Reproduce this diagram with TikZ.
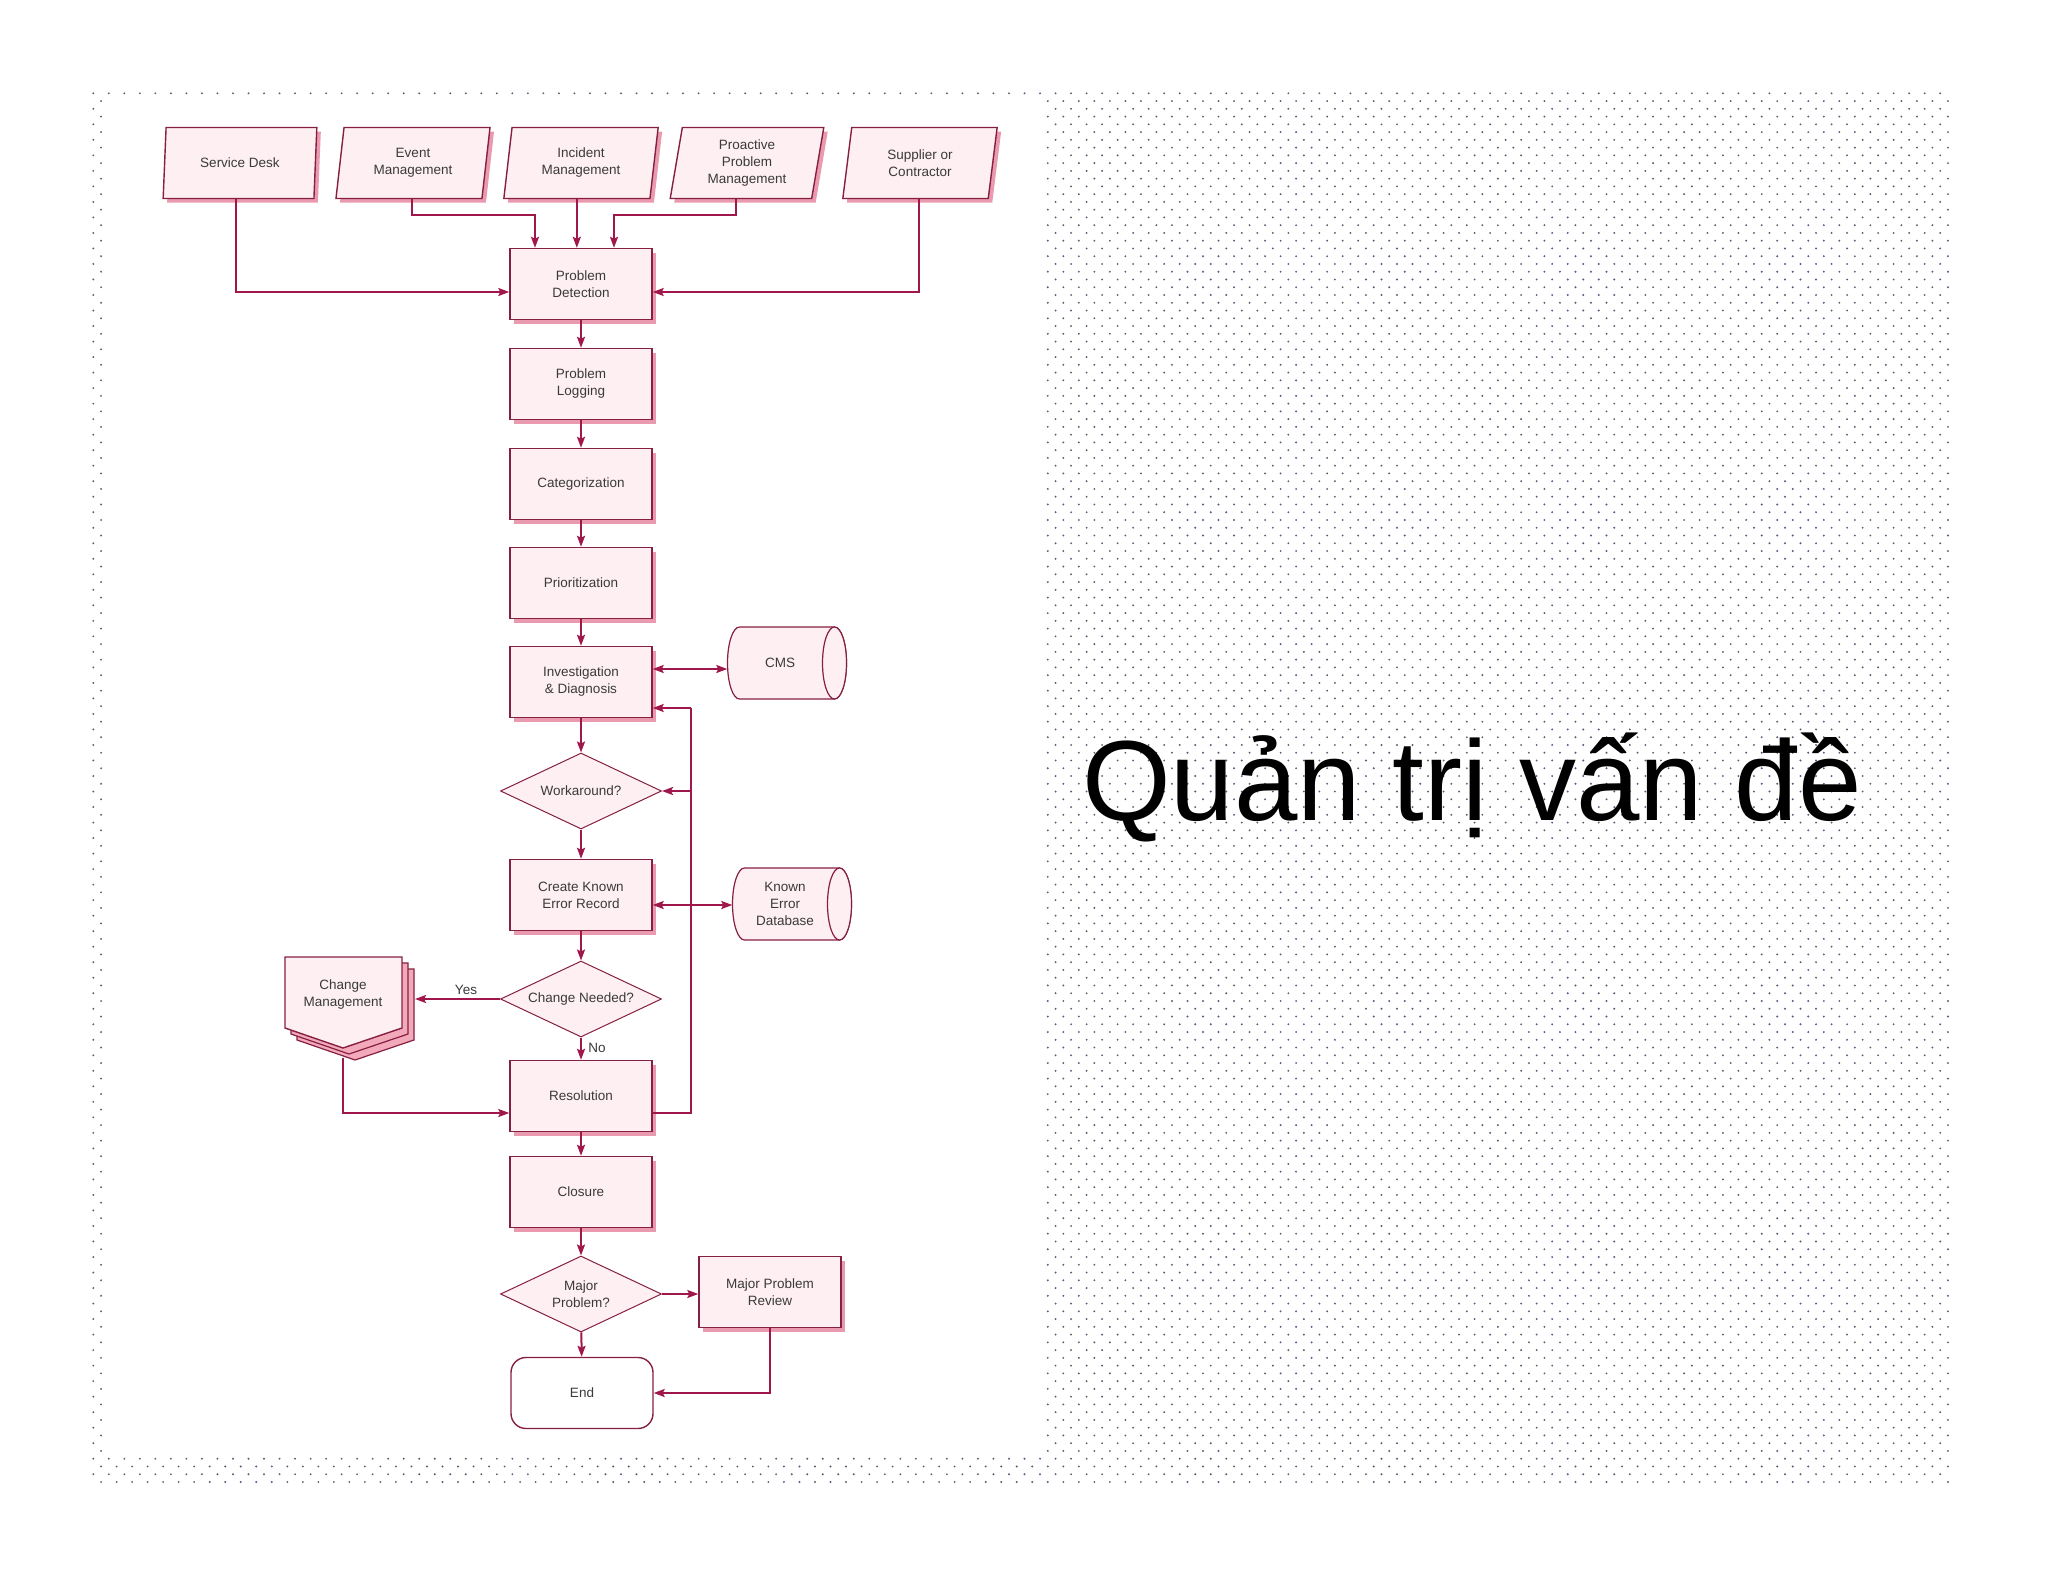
\documentclass[tikz,border=0pt]{standalone}
\usepackage{fontspec}
\setmainfont{Liberation Sans}
\usetikzlibrary{arrows.meta,shapes.geometric,shadows,calc}
\definecolor{dotc}{HTML}{565C7C}
\definecolor{bfill}{HTML}{FDEFF2}
\definecolor{bdraw}{HTML}{862042}
\definecolor{shad}{HTML}{EA9AAE}
\definecolor{conc}{HTML}{A0174B}
\definecolor{txt}{HTML}{3A3A3A}
\definecolor{backc}{HTML}{F2A9B9}
\tikzset{
  lbl/.style={font=\fontsize{13.5pt}{17pt}\selectfont, text=txt, align=center},
  sh/.style={drop shadow={shadow xshift=4pt, shadow yshift=-4pt, fill=shad, opacity=1}},
  procbox/.style={lbl, rectangle, draw=bdraw, line width=1.4pt, fill=bfill, minimum width=142pt, minimum height=71pt, inner sep=0pt, sh},
  inbox/.style={lbl, trapezium, trapezium left angle=81, trapezium right angle=99, trapezium stretches=true, draw=bdraw, line width=1.4pt, fill=bfill, minimum width=155pt, minimum height=71pt, inner sep=0pt, sh},
  decis/.style={lbl, diamond, aspect=2.1, draw=bdraw, line width=1pt, fill=bfill, minimum width=161pt, minimum height=76pt, inner sep=0pt},
  storetext/.style={lbl, rectangle, minimum width=119pt, minimum height=72pt, inner sep=0pt},
  storeline/.style={draw=bdraw, fill=bfill, line width=1.2pt},
  termbox/.style={lbl, rectangle, rounded corners=15pt, draw=bdraw, line width=1.4pt, fill=white, minimum width=142pt, minimum height=71pt, inner sep=0pt},
  tipa/.tip={Stealth[length=11pt, width=8pt, inset=2pt]},
  conn/.style={draw=conc, line width=2pt, -tipa},
  link/.style={draw=conc, line width=2pt},
  both/.style={draw=conc, line width=2pt, tipa-tipa},
}
\newcommand\mystorebody[1]{%
  \path[storeline] ($(#1)+(-47.5,-36)$) -- ($(#1)+(47.5,-36)$)
    arc[start angle=90, end angle=-90, x radius=12pt, y radius=36pt]
    -- ($(#1)+(-47.5,36)$)
    arc[start angle=270, end angle=90, x radius=12pt, y radius=36pt] -- cycle;
  \path[storeline] ($(#1)+(47.5,0)$) ellipse[x radius=12pt, y radius=36pt];
}
\begin{document}
\begin{tikzpicture}[x=1pt, y=-1pt]
\useasboundingbox (0,0) rectangle (2048,1582);
\fill[white] (0,0) rectangle (2048,1582);
% dotted background
\foreach \j in {0,...,179}{
  \pgfmathsetmacro\yy{93.3+7.758*\j}
  \pgfmathsetmacro\xx{93.3+7.76*mod(\j,2)}
  \draw[dotc, line width=2.1pt, line cap=round, dash pattern=on 0pt off 15.52pt] (\xx,\yy) -- (1952,\yy);
}
% picture area
\fill[white] (104,97) rectangle (1044,1455);

% inputs
\node[inbox] (sd)  at (240,163) {Service Desk};
\node[inbox] (ev)  at (413,163) {Event\\Management};
\node[inbox] (inc) at (581,163) {Incident\\Management};
\node[inbox] (pro) at (747,163) {Proactive\\Problem\\Management};
\node[inbox] (sup) at (920,163) {Supplier or\\Contractor};

% main column
\node[procbox] (pd)   at (581,284)  {Problem\\Detection};
\node[procbox] (pl)   at (581,384)  {Problem\\Logging};
\node[procbox] (cat)  at (581,484)  {Categorization};
\node[procbox] (pri)  at (581,583)  {Prioritization};
\node[procbox] (inv)  at (581,682)  {Investigation\\\& Diagnosis};
\node[decis]   (wa)   at (581,791)  {Workaround?};
\node[procbox] (cker) at (581,895)  {Create Known\\Error Record};
\node[decis]   (cn)   at (581,999)  {Change Needed?};
\node[procbox] (res)  at (581,1096) {Resolution};
\node[procbox] (clo)  at (581,1192) {Closure};
\node[decis]   (mp)   at (581,1294) {Major\\Problem?};
\node[termbox] (end)  at (582,1393) {End};
\node[procbox] (mpr)  at (770,1292) {Major Problem\\Review};

% stores
\coordinate (cmsc) at (787,663);
\coordinate (kedbc) at (792,904);
\mystorebody{cmsc}
\mystorebody{kedbc}
\node[storetext] (cms)  at (cmsc) {\hspace*{-14pt}CMS};
\node[storetext] (kedb) at (kedbc) {\hspace*{-14pt}Known\\\hspace*{-14pt}Error\\\hspace*{-14pt}Database};

% change management stack
\foreach \d in {12,6}{
  \filldraw[fill=backc, draw=bdraw, line width=1.2pt, shift={(\d,\d)}]
    (285,957) -- (402,957) -- (402,1028) -- (343,1048) -- (285,1028) -- cycle;
}
\filldraw[fill=bfill, draw=bdraw, line width=1.4pt]
  (285,957) -- (402,957) -- (402,1028) -- (343,1048) -- (285,1028) -- cycle;
\node[lbl] (cm) at (343,994) {Change\\Management};
\coordinate (cmR) at (415,999);
\coordinate (cmB) at (343,1058);

% input connectors
\draw[conn] ($(sd.bottom side)+(-3,0)$) |- ($(pd.west)+(0,8)$);
\draw[conn] ($(sup.bottom side)+(4,0)$) |- ($(pd.east)+(0,8)$);
\draw[conn] ($(ev.bottom side)+(3,0)$) |- ($(pd.north)+(-46,-33)$) -- ($(pd.north)+(-46,0)$);
\draw[conn] ($(pro.bottom side)+(-5,0)$) |- ($(pd.north)+(33,-33)$) -- ($(pd.north)+(33,0)$);
\draw[conn] (inc.bottom side) -- (inc.bottom side |- pd.north);

% main flow
\draw[conn] (pd) -- (pl);
\draw[conn] (pl) -- (cat);
\draw[conn] (cat) -- (pri);
\draw[conn] (pri) -- (inv);
\draw[conn] (inv) -- (wa);
\draw[conn] (wa) -- (cker);
\draw[conn] (cker) -- (cn);
\draw[conn] (cn) -- (res);
\draw[conn] (res) -- (clo);
\draw[conn] (clo) -- (mp);
\draw[conn] (mp) -- (end);
\draw[conn] (mp.east) -- (mp.east -| mpr.west);
\draw[conn] (mpr.south) |- (end.east);

% stores links
\draw[both] ($(inv.east)+(0,-13)$) -- (cms.west |- {$(inv.east)+(0,-13)$});
\draw[both] ($(cker.east)+(0,10)$) -- (kedb.west |- {$(cker.east)+(0,10)$});

% loop back
\coordinate (lpb) at (691,1113);
\coordinate (lpt) at (691,708);
\draw[link] (res.east |- lpb) -- (lpb) -- (lpt);
\draw[conn] (lpt) -- (inv.east |- lpt);
\draw[conn] (lpt |- wa.east) -- (wa.east);

% change management
\draw[conn] (cn.west) -- (cmR);
\node[lbl] (yes) at (466,990) {Yes};
\node[lbl] (no) at (597,1048) {No};
\draw[conn] (cmB) |- ($(res.west)+(0,17)$);

% title
\node[anchor=base west, inner sep=0pt, font=\fontsize{114pt}{124pt}\selectfont] (title) at (1082,820) {Quản trị vấn đề};
\end{tikzpicture}
\end{document}
